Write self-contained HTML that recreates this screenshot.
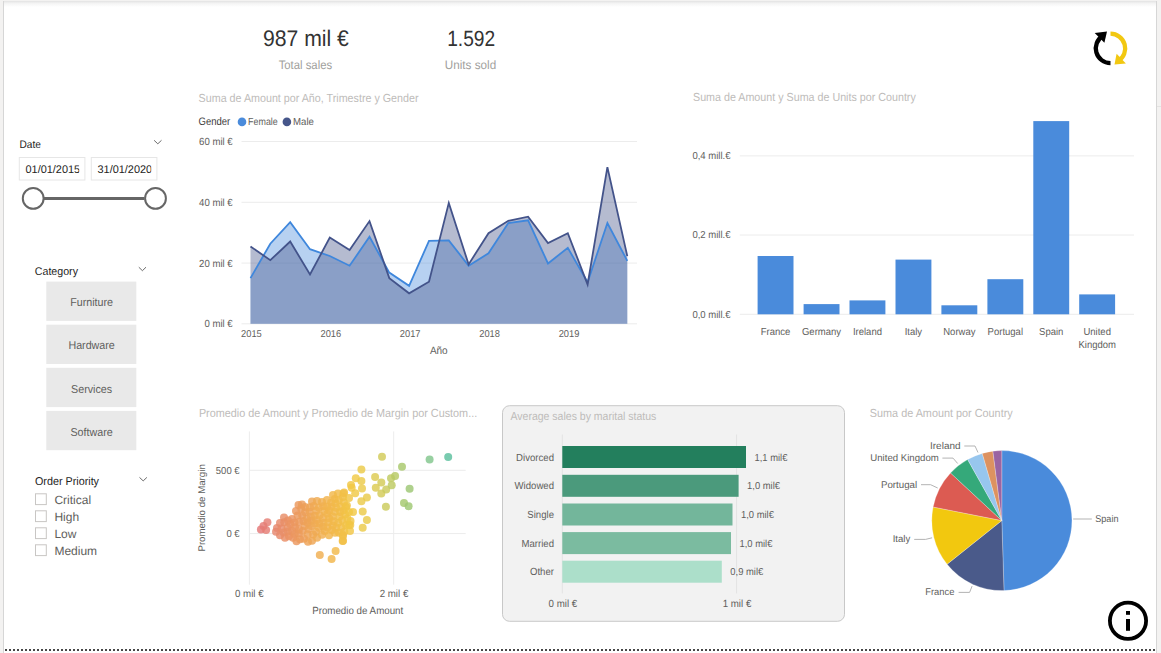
<!DOCTYPE html>
<html><head><meta charset="utf-8"><style>
html,body{margin:0;padding:0;}
body{width:1161px;height:653px;overflow:hidden;background:#f3f2f1;position:relative;font-family:"Liberation Sans",sans-serif;}
#canvas{position:absolute;left:4px;top:1px;width:1152px;height:652px;background:#fff;}
#lb{position:absolute;left:3px;top:1px;width:1px;height:652px;background:#d6d6d6;}
#rb{position:absolute;left:1156px;top:1px;width:1px;height:652px;background:#d6d6d6;}
#tb{position:absolute;left:4px;top:1px;width:1152px;height:6px;background:linear-gradient(#e2e2e2,#f4f4f4 40%,rgba(255,255,255,0));}
#dots{position:absolute;left:5px;top:649px;width:1150px;height:2px;background:repeating-linear-gradient(90deg,#474747 0 2px,transparent 2px 4px);}
#sb{position:absolute;left:1157px;top:106px;width:4px;height:1px;background:#e4e3e2;}
svg{position:absolute;left:0;top:0;}
</style></head><body>
<div id="canvas"></div><div id="tb"></div><div id="lb"></div><div id="rb"></div><div id="dots"></div><div id="sb"></div>
<svg width="1161" height="653" viewBox="0 0 1161 653" font-family="Liberation Sans, sans-serif" text-rendering="geometricPrecision">
<text x="305.9" y="45.8" font-size="22.6" fill="#333" text-anchor="middle" textLength="86" lengthAdjust="spacingAndGlyphs">987 mil €</text>
<text x="305.4" y="68.7" font-size="12.2" fill="#a19f9d" text-anchor="middle" textLength="53.4" lengthAdjust="spacingAndGlyphs">Total sales</text>
<text x="471.2" y="45.8" font-size="22.0" fill="#333" text-anchor="middle" textLength="48" lengthAdjust="spacingAndGlyphs">1.592</text>
<text x="470.5" y="69" font-size="12.2" fill="#a19f9d" text-anchor="middle" textLength="51.3" lengthAdjust="spacingAndGlyphs">Units sold</text>
<text x="19.5" y="147.9" font-size="10.91" fill="#252423" textLength="21.5" lengthAdjust="spacingAndGlyphs">Date</text>
<path d="M154.1 140.3 L157.8 143.8 L161.5 140.3" fill="none" stroke="#5a5a5a" stroke-width="0.9"/>
<rect x="19.3" y="157.5" width="65.6" height="22.5" fill="#fff" stroke="#e6e6e6" stroke-width="1"/>
<rect x="91.3" y="157.5" width="65.6" height="22.5" fill="#fff" stroke="#e6e6e6" stroke-width="1"/>
<defs><clipPath id="c1"><rect x="20" y="158" width="59.3" height="21"/></clipPath><clipPath id="c2"><rect x="92" y="158" width="59.3" height="21"/></clipPath></defs>
<text x="25.5" y="173.3" font-size="11.02" fill="#252423" textLength="54.6" lengthAdjust="spacingAndGlyphs" clip-path="url(#c1)">01/01/2015</text>
<text x="97.5" y="173.3" font-size="11.02" fill="#252423" textLength="54.6" lengthAdjust="spacingAndGlyphs" clip-path="url(#c2)">31/01/2020</text>
<line x1="44" y1="198.4" x2="144.5" y2="198.4" stroke="#666" stroke-width="3"/>
<circle cx="33.2" cy="198.4" r="10.4" fill="#fff" stroke="#666" stroke-width="2"/>
<circle cx="155.5" cy="198.4" r="10.4" fill="#fff" stroke="#666" stroke-width="2"/>
<text x="34.8" y="274.5" font-size="11.24" fill="#252423" textLength="43.2" lengthAdjust="spacingAndGlyphs">Category</text>
<path d="M138.8 267.2 L142.4 270.7 L146 267.2" fill="none" stroke="#5a5a5a" stroke-width="0.9"/>
<rect x="46.3" y="281.6" width="90" height="39.3" fill="#e9e9e9"/>
<text x="91.6" y="306.3" font-size="11.45" fill="#605e5c" text-anchor="middle" textLength="42.82" lengthAdjust="spacingAndGlyphs">Furniture</text>
<rect x="46.3" y="324.70000000000005" width="90" height="39.3" fill="#e9e9e9"/>
<text x="91.6" y="349.40000000000003" font-size="11.45" fill="#605e5c" text-anchor="middle" textLength="46.38" lengthAdjust="spacingAndGlyphs">Hardware</text>
<rect x="46.3" y="367.8" width="90" height="39.3" fill="#e9e9e9"/>
<text x="91.6" y="392.5" font-size="11.45" fill="#605e5c" text-anchor="middle" textLength="41.03" lengthAdjust="spacingAndGlyphs">Services</text>
<rect x="46.3" y="410.90000000000003" width="90" height="39.3" fill="#e9e9e9"/>
<text x="91.6" y="435.6" font-size="11.45" fill="#605e5c" text-anchor="middle" textLength="42.23" lengthAdjust="spacingAndGlyphs">Software</text>
<text x="35" y="484.6" font-size="11.45" fill="#252423" textLength="64" lengthAdjust="spacingAndGlyphs">Order Priority</text>
<path d="M139.5 477.4 L143.2 480.9 L146.9 477.4" fill="none" stroke="#5a5a5a" stroke-width="0.9"/>
<rect x="35.5" y="493.8" width="10.8" height="10.8" fill="#fff" stroke="#c8c6c4" stroke-width="1"/>
<text x="54.4" y="504.0" font-size="12.0" fill="#605e5c">Critical</text>
<rect x="35.5" y="510.8" width="10.8" height="10.8" fill="#fff" stroke="#c8c6c4" stroke-width="1"/>
<text x="54.4" y="521.0" font-size="12.0" fill="#605e5c">High</text>
<rect x="35.5" y="527.8" width="10.8" height="10.8" fill="#fff" stroke="#c8c6c4" stroke-width="1"/>
<text x="54.4" y="538.0" font-size="12.0" fill="#605e5c">Low</text>
<rect x="35.5" y="544.8" width="10.8" height="10.8" fill="#fff" stroke="#c8c6c4" stroke-width="1"/>
<text x="54.4" y="555.0" font-size="12.0" fill="#605e5c">Medium</text>
<text x="198.6" y="102.3" font-size="11.76" fill="#bebcba" textLength="219.9" lengthAdjust="spacingAndGlyphs">Suma de Amount por Año, Trimestre y Gender</text>
<text x="198.6" y="125.2" font-size="10.91" fill="#3b3a39" textLength="31.7" lengthAdjust="spacingAndGlyphs">Gender</text>
<circle cx="242" cy="121.9" r="4.3" fill="#4a8bdb"/>
<text x="248.1" y="125.2" font-size="10.27" fill="#605e5c" textLength="29.7" lengthAdjust="spacingAndGlyphs">Female</text>
<circle cx="286.9" cy="121.9" r="4.3" fill="#46568a"/>
<text x="293" y="125.2" font-size="10.27" fill="#605e5c" textLength="20.9" lengthAdjust="spacingAndGlyphs">Male</text>
<line x1="241.5" y1="141.5" x2="637" y2="141.5" stroke="#ececec" stroke-width="1"/>
<text x="232.7" y="145.1" font-size="10.27" fill="#605e5c" text-anchor="end" textLength="33.61" lengthAdjust="spacingAndGlyphs">60 mil €</text>
<line x1="241.5" y1="202.3" x2="637" y2="202.3" stroke="#ececec" stroke-width="1"/>
<text x="232.7" y="205.9" font-size="10.27" fill="#605e5c" text-anchor="end" textLength="33.61" lengthAdjust="spacingAndGlyphs">40 mil €</text>
<line x1="241.5" y1="263.1" x2="637" y2="263.1" stroke="#ececec" stroke-width="1"/>
<text x="232.7" y="266.70000000000005" font-size="10.27" fill="#605e5c" text-anchor="end" textLength="33.61" lengthAdjust="spacingAndGlyphs">20 mil €</text>
<line x1="241.5" y1="323.8" x2="637" y2="323.8" stroke="#ececec" stroke-width="1"/>
<text x="232.7" y="327.40000000000003" font-size="10.27" fill="#605e5c" text-anchor="end" textLength="28.28" lengthAdjust="spacingAndGlyphs">0 mil €</text>
<path d="M250.5,323.8 L250.5,278.1 270.3,243.7 290.2,222.2 310.0,249.2 329.8,256.0 349.6,265.7 369.5,236.8 389.3,272.6 409.1,285.8 429.0,240.9 448.8,240.4 468.6,265.7 488.5,253.3 508.3,223.0 528.1,220.3 548.0,263.5 567.8,247.8 587.6,282.3 607.4,223.0 627.3,260.8 L627.3,323.8 Z" fill="#4a8bdb" fill-opacity="0.4"/>
<path d="M250.5,323.8 L250.5,246.4 270.3,260.2 290.2,241.5 310.0,274.5 329.8,237.6 349.6,250.0 369.5,221.1 389.3,278.1 409.1,293.3 429.0,281.7 448.8,202.9 468.6,264.4 488.5,233.2 508.3,220.8 528.1,216.7 548.0,243.1 567.8,233.2 587.6,284.5 607.4,167.1 627.3,256.1 L627.3,323.8 Z" fill="#46568a" fill-opacity="0.4"/>
<path d="M250.5,278.1 270.3,243.7 290.2,222.2 310.0,249.2 329.8,256.0 349.6,265.7 369.5,236.8 389.3,272.6 409.1,285.8 429.0,240.9 448.8,240.4 468.6,265.7 488.5,253.3 508.3,223.0 528.1,220.3 548.0,263.5 567.8,247.8 587.6,282.3 607.4,223.0 627.3,260.8" fill="none" stroke="#3f87dc" stroke-width="1.8" stroke-linejoin="miter"/>
<path d="M250.5,246.4 270.3,260.2 290.2,241.5 310.0,274.5 329.8,237.6 349.6,250.0 369.5,221.1 389.3,278.1 409.1,293.3 429.0,281.7 448.8,202.9 468.6,264.4 488.5,233.2 508.3,220.8 528.1,216.7 548.0,243.1 567.8,233.2 587.6,284.5 607.4,167.1 627.3,256.1" fill="none" stroke="#43538a" stroke-width="1.8" stroke-linejoin="miter"/>
<text x="251.4" y="337.2" font-size="9.95" fill="#605e5c" text-anchor="middle" textLength="20.69" lengthAdjust="spacingAndGlyphs">2015</text>
<text x="330.8" y="337.2" font-size="9.95" fill="#605e5c" text-anchor="middle" textLength="20.69" lengthAdjust="spacingAndGlyphs">2016</text>
<text x="410.20000000000005" y="337.2" font-size="9.95" fill="#605e5c" text-anchor="middle" textLength="20.69" lengthAdjust="spacingAndGlyphs">2017</text>
<text x="489.6" y="337.2" font-size="9.95" fill="#605e5c" text-anchor="middle" textLength="20.69" lengthAdjust="spacingAndGlyphs">2018</text>
<text x="569.0" y="337.2" font-size="9.95" fill="#605e5c" text-anchor="middle" textLength="20.69" lengthAdjust="spacingAndGlyphs">2019</text>
<text x="438.8" y="353.6" font-size="10.7" fill="#605e5c" text-anchor="middle" textLength="17.79" lengthAdjust="spacingAndGlyphs">Año</text>
<text x="693" y="100.9" font-size="11.76" fill="#bebcba" textLength="222.8" lengthAdjust="spacingAndGlyphs">Suma de Amount y Suma de Units por Country</text>
<line x1="739.8" y1="155.9" x2="1134" y2="155.9" stroke="#ececec" stroke-width="1"/>
<text x="692.4" y="159.20000000000002" font-size="10.17" fill="#605e5c" textLength="38.1" lengthAdjust="spacingAndGlyphs">0,4 mill.€</text>
<line x1="739.8" y1="235.0" x2="1134" y2="235.0" stroke="#ececec" stroke-width="1"/>
<text x="692.4" y="238.3" font-size="10.17" fill="#605e5c" textLength="38.1" lengthAdjust="spacingAndGlyphs">0,2 mill.€</text>
<line x1="739.8" y1="314.3" x2="1134" y2="314.3" stroke="#ececec" stroke-width="1"/>
<text x="692.4" y="317.6" font-size="10.17" fill="#605e5c" textLength="38.1" lengthAdjust="spacingAndGlyphs">0,0 mill.€</text>
<rect x="757.6" y="256.0" width="35.9" height="58.3" fill="#4a8bdb"/>
<text x="775.5500000000001" y="335.1" font-size="10.17" fill="#605e5c" text-anchor="middle" textLength="29.57" lengthAdjust="spacingAndGlyphs">France</text>
<rect x="803.6" y="304.1" width="35.9" height="10.2" fill="#4a8bdb"/>
<text x="821.5000000000001" y="335.1" font-size="10.17" fill="#605e5c" text-anchor="middle" textLength="39.07" lengthAdjust="spacingAndGlyphs">Germany</text>
<rect x="849.5" y="300.4" width="35.9" height="13.9" fill="#4a8bdb"/>
<text x="867.45" y="335.1" font-size="10.17" fill="#605e5c" text-anchor="middle" textLength="29.05" lengthAdjust="spacingAndGlyphs">Ireland</text>
<rect x="895.5" y="259.6" width="35.9" height="54.7" fill="#4a8bdb"/>
<text x="913.4000000000001" y="335.1" font-size="10.17" fill="#605e5c" text-anchor="middle" textLength="17.42" lengthAdjust="spacingAndGlyphs">Italy</text>
<rect x="941.4" y="305.3" width="35.9" height="9.0" fill="#4a8bdb"/>
<text x="959.3500000000001" y="335.1" font-size="10.17" fill="#605e5c" text-anchor="middle" textLength="32.2" lengthAdjust="spacingAndGlyphs">Norway</text>
<rect x="987.4" y="279.2" width="35.9" height="35.1" fill="#4a8bdb"/>
<text x="1005.3000000000001" y="335.1" font-size="10.17" fill="#605e5c" text-anchor="middle" textLength="35.38" lengthAdjust="spacingAndGlyphs">Portugal</text>
<rect x="1033.3" y="121.1" width="35.9" height="193.2" fill="#4a8bdb"/>
<text x="1051.2500000000002" y="335.1" font-size="10.17" fill="#605e5c" text-anchor="middle" textLength="24.3" lengthAdjust="spacingAndGlyphs">Spain</text>
<rect x="1079.2" y="294.4" width="35.9" height="19.9" fill="#4a8bdb"/>
<text x="1097.2" y="335.1" font-size="10.17" fill="#605e5c" text-anchor="middle" textLength="27.46" lengthAdjust="spacingAndGlyphs">United</text>
<text x="1097.2" y="347.5" font-size="10.17" fill="#605e5c" text-anchor="middle" textLength="37.49" lengthAdjust="spacingAndGlyphs">Kingdom</text>
<text x="198.9" y="416.7" font-size="11.76" fill="#bebcba" textLength="278.3" lengthAdjust="spacingAndGlyphs">Promedio de Amount y Promedio de Margin por Custom...</text>
<line x1="249.4" y1="431.4" x2="249.4" y2="584.7" stroke="#ececec" stroke-width="1"/>
<line x1="393.7" y1="431.4" x2="393.7" y2="584.7" stroke="#ececec" stroke-width="1"/>
<line x1="249.5" y1="470.3" x2="465.7" y2="470.3" stroke="#ececec" stroke-width="1"/>
<line x1="249.5" y1="533.6" x2="465.7" y2="533.6" stroke="#ececec" stroke-width="1"/>
<text x="239.6" y="473.9" font-size="10.17" fill="#605e5c" text-anchor="end" textLength="23.77" lengthAdjust="spacingAndGlyphs">500 €</text>
<text x="239.6" y="537" font-size="10.17" fill="#605e5c" text-anchor="end" textLength="13.21" lengthAdjust="spacingAndGlyphs">0 €</text>
<text x="249.3" y="597" font-size="10.38" fill="#605e5c" text-anchor="middle" textLength="28.57" lengthAdjust="spacingAndGlyphs">0 mil €</text>
<text x="394" y="597" font-size="10.38" fill="#605e5c" text-anchor="middle" textLength="28.57" lengthAdjust="spacingAndGlyphs">2 mil €</text>
<text x="357.7" y="613.8" font-size="10.38" fill="#605e5c" text-anchor="middle" textLength="91.1" lengthAdjust="spacingAndGlyphs">Promedio de Amount</text>
<text x="0" y="0" font-size="9.7" fill="#605e5c" text-anchor="middle" textLength="87.4" lengthAdjust="spacingAndGlyphs" transform="translate(204.6,507.9) rotate(-90)">Promedio de Margin</text>
<circle cx="260.9" cy="529.5" r="4" fill="#e47777" fill-opacity="0.82"/>
<circle cx="263.5" cy="526.0" r="4" fill="#e57a75" fill-opacity="0.82"/>
<circle cx="266.1" cy="530.1" r="4" fill="#e57d74" fill-opacity="0.82"/>
<circle cx="267.4" cy="522.3" r="4" fill="#e57e74" fill-opacity="0.82"/>
<circle cx="276.0" cy="531.8" r="4" fill="#e6876f" fill-opacity="0.82"/>
<circle cx="277.0" cy="528.0" r="4" fill="#e7886e" fill-opacity="0.82"/>
<circle cx="280.0" cy="535.3" r="4" fill="#e78a6b" fill-opacity="0.82"/>
<circle cx="280.0" cy="523.0" r="4" fill="#e78a6b" fill-opacity="0.82"/>
<circle cx="281.5" cy="528.6" r="4" fill="#e88b6a" fill-opacity="0.82"/>
<circle cx="283.6" cy="532.4" r="4" fill="#e88d68" fill-opacity="0.82"/>
<circle cx="284.0" cy="517.5" r="4" fill="#e88d68" fill-opacity="0.82"/>
<circle cx="284.3" cy="522.3" r="4" fill="#e88d67" fill-opacity="0.82"/>
<circle cx="285.0" cy="537.8" r="4" fill="#e98e67" fill-opacity="0.82"/>
<circle cx="287.6" cy="527.5" r="4" fill="#e99064" fill-opacity="0.82"/>
<circle cx="287.9" cy="531.4" r="4" fill="#e99064" fill-opacity="0.82"/>
<circle cx="288.0" cy="520.5" r="4" fill="#e99064" fill-opacity="0.82"/>
<circle cx="289.0" cy="536.3" r="4" fill="#ea9163" fill-opacity="0.82"/>
<circle cx="290.3" cy="523.9" r="4" fill="#ea9262" fill-opacity="0.82"/>
<circle cx="292.0" cy="519.0" r="4" fill="#ea9461" fill-opacity="0.82"/>
<circle cx="292.1" cy="530.8" r="4" fill="#ea9461" fill-opacity="0.82"/>
<circle cx="293.0" cy="537.8" r="4" fill="#eb9460" fill-opacity="0.82"/>
<circle cx="294.6" cy="522.6" r="4" fill="#eb965f" fill-opacity="0.82"/>
<circle cx="294.8" cy="533.9" r="4" fill="#eb965f" fill-opacity="0.82"/>
<circle cx="295.0" cy="527.3" r="4" fill="#eb965f" fill-opacity="0.82"/>
<circle cx="296.0" cy="511.0" r="4" fill="#eb975e" fill-opacity="0.82"/>
<circle cx="296.5" cy="541.3" r="4" fill="#eb975e" fill-opacity="0.82"/>
<circle cx="297.6" cy="515.4" r="4" fill="#ec985d" fill-opacity="0.82"/>
<circle cx="298.5" cy="505.0" r="4" fill="#ec995d" fill-opacity="0.82"/>
<circle cx="298.8" cy="533.6" r="4" fill="#ec995d" fill-opacity="0.82"/>
<circle cx="299.0" cy="529.2" r="4" fill="#ec995d" fill-opacity="0.82"/>
<circle cx="299.2" cy="521.9" r="4" fill="#ec995c" fill-opacity="0.82"/>
<circle cx="300.0" cy="539.3" r="4" fill="#ec9a5c" fill-opacity="0.82"/>
<circle cx="301.2" cy="508.4" r="4" fill="#ec9b5b" fill-opacity="0.82"/>
<circle cx="302.0" cy="504.5" r="4" fill="#ec9c5b" fill-opacity="0.82"/>
<circle cx="302.2" cy="515.4" r="4" fill="#ec9c5b" fill-opacity="0.82"/>
<circle cx="302.7" cy="531.0" r="4" fill="#ed9d5a" fill-opacity="0.82"/>
<circle cx="303.4" cy="520.9" r="4" fill="#ed9d5a" fill-opacity="0.82"/>
<circle cx="304.0" cy="538.8" r="4" fill="#ed9e5a" fill-opacity="0.82"/>
<circle cx="304.7" cy="526.1" r="4" fill="#ed9f59" fill-opacity="0.82"/>
<circle cx="305.0" cy="507.0" r="4" fill="#ed9f59" fill-opacity="0.82"/>
<circle cx="305.2" cy="512.3" r="4" fill="#ed9f59" fill-opacity="0.82"/>
<circle cx="306.9" cy="518.7" r="4" fill="#eda158" fill-opacity="0.82"/>
<circle cx="307.6" cy="522.7" r="4" fill="#eea257" fill-opacity="0.82"/>
<circle cx="307.7" cy="534.2" r="4" fill="#eea257" fill-opacity="0.82"/>
<circle cx="308.0" cy="541.8" r="4" fill="#eea257" fill-opacity="0.82"/>
<circle cx="308.7" cy="529.0" r="4" fill="#eea357" fill-opacity="0.82"/>
<circle cx="309.6" cy="511.7" r="4" fill="#eea456" fill-opacity="0.82"/>
<circle cx="309.9" cy="507.3" r="4" fill="#eea456" fill-opacity="0.82"/>
<circle cx="310.9" cy="516.7" r="4" fill="#eea555" fill-opacity="0.82"/>
<circle cx="311.1" cy="520.7" r="4" fill="#eea555" fill-opacity="0.82"/>
<circle cx="311.5" cy="525.9" r="4" fill="#eea655" fill-opacity="0.82"/>
<circle cx="312.0" cy="540.8" r="4" fill="#eea655" fill-opacity="0.82"/>
<circle cx="312.0" cy="501.5" r="4" fill="#eea655" fill-opacity="0.82"/>
<circle cx="313.1" cy="534.6" r="4" fill="#efa754" fill-opacity="0.82"/>
<circle cx="313.8" cy="505.9" r="4" fill="#efa854" fill-opacity="0.82"/>
<circle cx="314.7" cy="523.5" r="4" fill="#efa953" fill-opacity="0.82"/>
<circle cx="314.8" cy="515.7" r="4" fill="#efa953" fill-opacity="0.82"/>
<circle cx="316.0" cy="531.7" r="4" fill="#efaa52" fill-opacity="0.82"/>
<circle cx="316.3" cy="510.7" r="4" fill="#efaa52" fill-opacity="0.82"/>
<circle cx="316.9" cy="520.0" r="4" fill="#efab52" fill-opacity="0.82"/>
<circle cx="317.0" cy="537.8" r="4" fill="#efab52" fill-opacity="0.82"/>
<circle cx="317.0" cy="501.0" r="4" fill="#efab52" fill-opacity="0.82"/>
<circle cx="318.9" cy="507.7" r="4" fill="#f0ad51" fill-opacity="0.82"/>
<circle cx="318.9" cy="527.7" r="4" fill="#f0ad51" fill-opacity="0.82"/>
<circle cx="319.2" cy="523.5" r="4" fill="#f0ad50" fill-opacity="0.82"/>
<circle cx="319.7" cy="515.3" r="4" fill="#f0ae50" fill-opacity="0.82"/>
<circle cx="319.8" cy="555.0" r="4" fill="#f0ae50" fill-opacity="0.82"/>
<circle cx="322.0" cy="534.8" r="4" fill="#f0af4f" fill-opacity="0.82"/>
<circle cx="322.0" cy="502.0" r="4" fill="#f0af4f" fill-opacity="0.82"/>
<circle cx="323.0" cy="518.1" r="4" fill="#f0b04f" fill-opacity="0.82"/>
<circle cx="323.2" cy="506.2" r="4" fill="#f0b04f" fill-opacity="0.82"/>
<circle cx="323.2" cy="526.7" r="4" fill="#f0b04f" fill-opacity="0.82"/>
<circle cx="323.5" cy="522.8" r="4" fill="#f0b04f" fill-opacity="0.82"/>
<circle cx="324.2" cy="511.0" r="4" fill="#f0b14e" fill-opacity="0.82"/>
<circle cx="324.8" cy="531.0" r="4" fill="#f0b14e" fill-opacity="0.82"/>
<circle cx="327.0" cy="500.0" r="4" fill="#f1b34d" fill-opacity="0.82"/>
<circle cx="327.0" cy="506.8" r="4" fill="#f1b34d" fill-opacity="0.82"/>
<circle cx="327.4" cy="513.8" r="4" fill="#f1b34d" fill-opacity="0.82"/>
<circle cx="327.6" cy="527.4" r="4" fill="#f1b34d" fill-opacity="0.82"/>
<circle cx="328.5" cy="522.3" r="4" fill="#f1b44d" fill-opacity="0.82"/>
<circle cx="329.0" cy="535.3" r="4" fill="#f1b44c" fill-opacity="0.82"/>
<circle cx="329.1" cy="518.3" r="4" fill="#f1b44c" fill-opacity="0.82"/>
<circle cx="329.4" cy="510.4" r="4" fill="#f1b54c" fill-opacity="0.82"/>
<circle cx="331.2" cy="502.5" r="4" fill="#f1b64c" fill-opacity="0.82"/>
<circle cx="331.2" cy="506.7" r="4" fill="#f1b64c" fill-opacity="0.82"/>
<circle cx="331.6" cy="559.1" r="4" fill="#f1b64b" fill-opacity="0.82"/>
<circle cx="331.9" cy="529.9" r="4" fill="#f1b64b" fill-opacity="0.82"/>
<circle cx="332.8" cy="516.4" r="4" fill="#f1b74b" fill-opacity="0.82"/>
<circle cx="332.8" cy="525.5" r="4" fill="#f1b74b" fill-opacity="0.82"/>
<circle cx="333.0" cy="495.0" r="4" fill="#f1b74b" fill-opacity="0.82"/>
<circle cx="333.9" cy="521.2" r="4" fill="#f1b84a" fill-opacity="0.82"/>
<circle cx="334.7" cy="499.0" r="4" fill="#f1b84a" fill-opacity="0.82"/>
<circle cx="334.9" cy="511.8" r="4" fill="#f1b84a" fill-opacity="0.82"/>
<circle cx="335.0" cy="532.8" r="4" fill="#f2b84a" fill-opacity="0.82"/>
<circle cx="335.5" cy="503.3" r="4" fill="#f2b94a" fill-opacity="0.82"/>
<circle cx="335.6" cy="551.0" r="4" fill="#f2b94a" fill-opacity="0.82"/>
<circle cx="336.2" cy="507.8" r="4" fill="#f2b94a" fill-opacity="0.82"/>
<circle cx="336.2" cy="527.6" r="4" fill="#f2b94a" fill-opacity="0.82"/>
<circle cx="338.0" cy="493.5" r="4" fill="#f2bb49" fill-opacity="0.82"/>
<circle cx="338.3" cy="522.7" r="4" fill="#f2bb49" fill-opacity="0.82"/>
<circle cx="338.8" cy="500.2" r="4" fill="#f2bb48" fill-opacity="0.82"/>
<circle cx="339.0" cy="532.8" r="4" fill="#f2bb48" fill-opacity="0.82"/>
<circle cx="339.7" cy="516.5" r="4" fill="#f2bc48" fill-opacity="0.82"/>
<circle cx="340.1" cy="512.1" r="4" fill="#f2bc48" fill-opacity="0.82"/>
<circle cx="341.1" cy="506.8" r="4" fill="#f2bd48" fill-opacity="0.82"/>
<circle cx="341.5" cy="527.5" r="4" fill="#f2bd48" fill-opacity="0.82"/>
<circle cx="342.2" cy="520.3" r="4" fill="#f2be47" fill-opacity="0.82"/>
<circle cx="342.7" cy="534.8" r="4" fill="#f2bf47" fill-opacity="0.82"/>
<circle cx="342.7" cy="540.9" r="4" fill="#f2bf47" fill-opacity="0.82"/>
<circle cx="343.0" cy="535.9" r="4" fill="#f2bf47" fill-opacity="0.82"/>
<circle cx="343.0" cy="497.0" r="4" fill="#f2bf47" fill-opacity="0.82"/>
<circle cx="343.0" cy="540.8" r="4" fill="#f2bf47" fill-opacity="0.82"/>
<circle cx="343.5" cy="493.5" r="4" fill="#f2c047" fill-opacity="0.82"/>
<circle cx="343.5" cy="510.2" r="4" fill="#f2c047" fill-opacity="0.82"/>
<circle cx="343.8" cy="502.2" r="4" fill="#f2c047" fill-opacity="0.82"/>
<circle cx="344.1" cy="492.5" r="4" fill="#f2c047" fill-opacity="0.82"/>
<circle cx="344.3" cy="531.8" r="4" fill="#f2c047" fill-opacity="0.82"/>
<circle cx="345.3" cy="514.6" r="4" fill="#f2c146" fill-opacity="0.82"/>
<circle cx="346.0" cy="525.0" r="4" fill="#f2c246" fill-opacity="0.82"/>
<circle cx="346.0" cy="507.0" r="4" fill="#f2c246" fill-opacity="0.82"/>
<circle cx="346.9" cy="505.6" r="4" fill="#f2c346" fill-opacity="0.82"/>
<circle cx="347.4" cy="518.5" r="4" fill="#f2c346" fill-opacity="0.82"/>
<circle cx="349.0" cy="498.0" r="4" fill="#f2c545" fill-opacity="0.82"/>
<circle cx="349.0" cy="512.0" r="4" fill="#f2c545" fill-opacity="0.82"/>
<circle cx="349.0" cy="525.0" r="4" fill="#f2c545" fill-opacity="0.82"/>
<circle cx="350.0" cy="531.0" r="4" fill="#f2c645" fill-opacity="0.82"/>
<circle cx="350.3" cy="524.9" r="4" fill="#f2c645" fill-opacity="0.82"/>
<circle cx="350.5" cy="521.0" r="4" fill="#f2c644" fill-opacity="0.82"/>
<circle cx="351.0" cy="485.0" r="4" fill="#f2c744" fill-opacity="0.82"/>
<circle cx="351.7" cy="487.7" r="4" fill="#f2c844" fill-opacity="0.82"/>
<circle cx="353.0" cy="512.0" r="4" fill="#f1c844" fill-opacity="0.82"/>
<circle cx="355.2" cy="493.2" r="4" fill="#f0c946" fill-opacity="0.82"/>
<circle cx="355.8" cy="478.3" r="4" fill="#f0c946" fill-opacity="0.82"/>
<circle cx="361.4" cy="469.5" r="4" fill="#ecca49" fill-opacity="0.82"/>
<circle cx="361.4" cy="481.1" r="4" fill="#ecca49" fill-opacity="0.82"/>
<circle cx="361.4" cy="501.2" r="4" fill="#ecca49" fill-opacity="0.82"/>
<circle cx="362.0" cy="488.4" r="4" fill="#ecca49" fill-opacity="0.82"/>
<circle cx="362.7" cy="511.4" r="4" fill="#ebca49" fill-opacity="0.82"/>
<circle cx="362.7" cy="527.7" r="4" fill="#ebca49" fill-opacity="0.82"/>
<circle cx="366.9" cy="497.6" r="4" fill="#e9cb4b" fill-opacity="0.82"/>
<circle cx="366.9" cy="520.1" r="4" fill="#e9cb4b" fill-opacity="0.82"/>
<circle cx="375.1" cy="477.1" r="4" fill="#ddcb52" fill-opacity="0.82"/>
<circle cx="375.8" cy="487.7" r="4" fill="#dccb52" fill-opacity="0.82"/>
<circle cx="381.3" cy="482.5" r="4" fill="#d3cb57" fill-opacity="0.82"/>
<circle cx="381.3" cy="493.5" r="4" fill="#d3cb57" fill-opacity="0.82"/>
<circle cx="382.0" cy="456.7" r="4" fill="#d2cb58" fill-opacity="0.82"/>
<circle cx="385.9" cy="506.7" r="4" fill="#cbcb5b" fill-opacity="0.82"/>
<circle cx="386.2" cy="489.4" r="4" fill="#cacb5b" fill-opacity="0.82"/>
<circle cx="391.0" cy="478.3" r="4" fill="#c0ca60" fill-opacity="0.82"/>
<circle cx="391.7" cy="485.2" r="4" fill="#beca61" fill-opacity="0.82"/>
<circle cx="395.1" cy="476.0" r="4" fill="#b7c964" fill-opacity="0.82"/>
<circle cx="402.0" cy="466.8" r="4" fill="#a8c86b" fill-opacity="0.82"/>
<circle cx="404.0" cy="503.1" r="4" fill="#a5c86d" fill-opacity="0.82"/>
<circle cx="408.6" cy="506.3" r="4" fill="#9fc873" fill-opacity="0.82"/>
<circle cx="409.6" cy="488.8" r="4" fill="#9dc774" fill-opacity="0.82"/>
<circle cx="429.6" cy="459.5" r="4" fill="#81c68c" fill-opacity="0.82"/>
<circle cx="448.2" cy="457.1" r="4" fill="#5cbf9e" fill-opacity="0.82"/>
<rect x="502.5" y="405.7" width="342" height="215.6" rx="7" fill="#f2f2f2" stroke="#c8c8c8" stroke-width="1"/>
<text x="510.5" y="419.5" font-size="11.55" fill="#bebcba" textLength="145.8" lengthAdjust="spacingAndGlyphs">Average sales by marital status</text>
<line x1="562.3" y1="434.5" x2="562.3" y2="593.4" stroke="#e3e3e3" stroke-width="1"/>
<line x1="736.6" y1="434.5" x2="736.6" y2="593.4" stroke="#e3e3e3" stroke-width="1"/>
<rect x="562.3" y="446" width="183.7" height="22" fill="#237f5d"/>
<text x="554" y="460.5" font-size="10.27" fill="#605e5c" text-anchor="end" textLength="37.88" lengthAdjust="spacingAndGlyphs">Divorced</text>
<text x="754.5" y="460.6" font-size="10.17" fill="#605e5c" textLength="32.9" lengthAdjust="spacingAndGlyphs">1,1 mil€</text>
<rect x="562.3" y="474.8" width="176.3" height="22" fill="#4b9a7c"/>
<text x="554" y="489.3" font-size="10.27" fill="#605e5c" text-anchor="end" textLength="39.48" lengthAdjust="spacingAndGlyphs">Widowed</text>
<text x="747.1" y="489.40000000000003" font-size="10.17" fill="#605e5c" textLength="32.9" lengthAdjust="spacingAndGlyphs">1,0 mil€</text>
<rect x="562.3" y="503.5" width="170.2" height="22" fill="#73b69b"/>
<text x="554" y="518.0" font-size="10.27" fill="#605e5c" text-anchor="end" textLength="26.69" lengthAdjust="spacingAndGlyphs">Single</text>
<text x="741.0" y="518.1" font-size="10.17" fill="#605e5c" textLength="32.9" lengthAdjust="spacingAndGlyphs">1,0 mil€</text>
<rect x="562.3" y="532.1" width="168.7" height="22" fill="#7bbba0"/>
<text x="554" y="546.6" font-size="10.27" fill="#605e5c" text-anchor="end" textLength="32.54" lengthAdjust="spacingAndGlyphs">Married</text>
<text x="739.5" y="546.7" font-size="10.17" fill="#605e5c" textLength="32.9" lengthAdjust="spacingAndGlyphs">1,0 mil€</text>
<rect x="562.3" y="560.7" width="159.5" height="22" fill="#acdfca"/>
<text x="554" y="575.2" font-size="10.27" fill="#605e5c" text-anchor="end" textLength="24.01" lengthAdjust="spacingAndGlyphs">Other</text>
<text x="730.3" y="575.3000000000001" font-size="10.17" fill="#605e5c" textLength="32.9" lengthAdjust="spacingAndGlyphs">0,9 mil€</text>
<text x="562.9" y="606.7" font-size="10.38" fill="#605e5c" text-anchor="middle" textLength="28.57" lengthAdjust="spacingAndGlyphs">0 mil €</text>
<text x="737" y="606.7" font-size="10.38" fill="#605e5c" text-anchor="middle" textLength="28.57" lengthAdjust="spacingAndGlyphs">1 mil €</text>
<text x="869.8" y="416.8" font-size="11.76" fill="#bebcba" textLength="142.9" lengthAdjust="spacingAndGlyphs">Suma de Amount por Country</text>
<path d="M1001.8,520.6 L1001.80,450.60 A70,70 0 0 1 1004.00,590.57 Z" fill="#4a8bdb" stroke="#fff" stroke-width="0.25"/>
<path d="M1001.8,520.6 L1004.00,590.57 A70,70 0 0 1 947.09,564.27 Z" fill="#4a5a8a" stroke="#fff" stroke-width="0.25"/>
<path d="M1001.8,520.6 L947.09,564.27 A70,70 0 0 1 933.13,507.00 Z" fill="#f2c80f" stroke="#fff" stroke-width="0.25"/>
<path d="M1001.8,520.6 L933.13,507.00 A70,70 0 0 1 950.52,472.95 Z" fill="#dc5b52" stroke="#fff" stroke-width="0.25"/>
<path d="M1001.8,520.6 L950.52,472.95 A70,70 0 0 1 967.65,459.50 Z" fill="#35a97a" stroke="#fff" stroke-width="0.25"/>
<path d="M1001.8,520.6 L967.65,459.50 A70,70 0 0 1 982.27,453.38 Z" fill="#97c6ee" stroke="#fff" stroke-width="0.25"/>
<path d="M1001.8,520.6 L982.27,453.38 A70,70 0 0 1 992.91,451.17 Z" fill="#dd9260" stroke="#fff" stroke-width="0.25"/>
<path d="M1001.8,520.6 L992.91,451.17 A70,70 0 0 1 1001.80,450.60 Z" fill="#9a64a2" stroke="#fff" stroke-width="0.25"/>
<polyline points="1073.2,519 1091.8,519" fill="none" stroke="#aaaaaa" stroke-width="0.9"/>
<polyline points="958.6,592.4 969.6,592.4 972.1,586.1" fill="none" stroke="#aaaaaa" stroke-width="0.9"/>
<polyline points="914.2,539.4 925.5,539.4 932.1,537.8" fill="none" stroke="#aaaaaa" stroke-width="0.9"/>
<polyline points="921,484.7 930.6,484.7 937.7,488" fill="none" stroke="#aaaaaa" stroke-width="0.9"/>
<polyline points="942.4,458.1 953,458.1 957.7,463.5" fill="none" stroke="#aaaaaa" stroke-width="0.9"/>
<polyline points="964.3,446 975,446 978,452.5" fill="none" stroke="#aaaaaa" stroke-width="0.9"/>
<text x="1095.2" y="521.7" font-size="9.84" fill="#605e5c" textLength="23.3" lengthAdjust="spacingAndGlyphs">Spain</text>
<text x="925.2" y="594.8" font-size="9.84" fill="#605e5c" textLength="29.2" lengthAdjust="spacingAndGlyphs">France</text>
<text x="892.7" y="542" font-size="9.84" fill="#605e5c" textLength="17.6" lengthAdjust="spacingAndGlyphs">Italy</text>
<text x="880.9" y="487.5" font-size="9.84" fill="#605e5c" textLength="36.3" lengthAdjust="spacingAndGlyphs">Portugal</text>
<text x="870.3" y="461" font-size="9.84" fill="#605e5c" textLength="68.5" lengthAdjust="spacingAndGlyphs">United Kingdom</text>
<text x="930" y="448.7" font-size="9.84" fill="#605e5c" textLength="30.6" lengthAdjust="spacingAndGlyphs">Ireland</text>
<g fill="none" stroke-width="4.3"><path d="M1110.50 63.10 A14.7 14.7 0 0 1 1102.71 35.93" stroke="#000"/><path d="M1110.50 33.70 A14.7 14.7 0 0 1 1118.29 60.87" stroke="#f2c811"/></g>
<path d="M1094.7 33.1 L1107 31.4 L1104.4 42.7 Z" fill="#000"/>
<path d="M1125.9 63.4 L1114.5 64.6 L1116.6 53.7 Z" fill="#f2c811"/>
<circle cx="1128" cy="620.8" r="18.1" fill="none" stroke="#000" stroke-width="3.8"/>
<rect x="1126" y="611" width="4" height="3.8" fill="#000"/>
<rect x="1126" y="619" width="4" height="11.8" fill="#000"/>
</svg>
</body></html>
